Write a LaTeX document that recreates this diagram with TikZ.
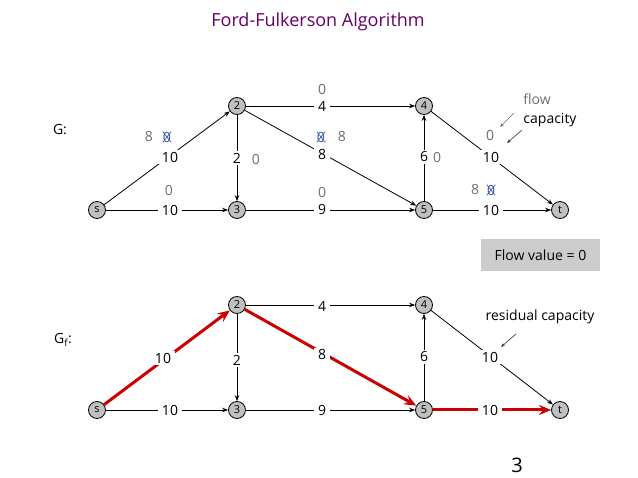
\documentclass[tikz,border=0pt]{standalone}
\usepackage{fontspec}
\setmainfont{Open Sans}
\usetikzlibrary{arrows.meta}
\definecolor{ttl}{RGB}{102,0,102}
\definecolor{rd}{RGB}{204,0,0}
\definecolor{flw}{RGB}{110,110,110}
\definecolor{xblue}{RGB}{60,90,170}
\definecolor{vert}{RGB}{192,192,192}
\definecolor{boxgray}{RGB}{204,204,204}
\begin{document}
\begin{tikzpicture}[x=1pt,y=-1pt,
 vtx/.style={circle,draw=black,line width=0.8pt,fill=vert,minimum size=17pt,inner sep=0pt,font=\fontsize{11}{11}\selectfont},
 edg/.style={-{Stealth[length=6pt,width=4.5pt]},line width=0.8pt},
 redg/.style={-{Stealth[length=12pt,width=10pt]},line width=3pt,draw=rd},
 capl/.style={fill=white,inner xsep=4pt,inner ysep=1.5pt,font=\fontsize{14}{14}\selectfont},
 flo/.style={text=flw,inner sep=1pt,font=\fontsize{14}{14}\selectfont},
 xzero/.style={text=xblue,inner sep=0.3pt,font=\fontsize{14}{14}\selectfont,
   path picture={\draw[xblue,line width=0.7pt]
     (path picture bounding box.south west)--(path picture bounding box.north east)
     (path picture bounding box.north west)--(path picture bounding box.south east);}},
 note/.style={-{Stealth[length=4pt,width=3pt]},line width=0.6pt},
 txt/.style={font=\fontsize{14}{14}\selectfont}]
\useasboundingbox (0,0) rectangle (638,478);

% title
\node[text=ttl,font=\fontsize{18}{18}\selectfont] (title) at (318,22) {Ford-Fulkerson Algorithm};

% ---------- G ----------
\node[txt] (G) at (60,130) {G:};
\node[vtx] (s)  at (97,210)  {s};
\node[vtx] (n2) at (237,106) {2};
\node[vtx] (n3) at (237,210) {3};
\node[vtx] (n4) at (424,106) {4};
\node[vtx] (n5) at (424,210) {5};
\node[vtx] (t)  at (560,210) {t};

\draw[edg] (s)  -- (n2);
\draw[edg] (s)  -- (n3);
\draw[edg] (n2) -- (n3);
\draw[edg] (n2) -- (n4);
\draw[edg] (n2) -- (n5);
\draw[edg] (n3) -- (n5);
\draw[edg] (n5) -- (n4);
\draw[edg] (n4) -- (t);
\draw[edg] (n5) -- (t);

\node[capl] (c1) at (170,157) {10};
\node[capl] (c2) at (170,210) {10};
\node[capl] (c3) at (237,158) {2};
\node[capl] (c4) at (322,106) {4};
\node[capl] (c5) at (322,155) {8};
\node[capl] (c6) at (322,210) {9};
\node[capl] (c7) at (424,157) {6};
\node[capl] (c8) at (491,157) {10};
\node[capl] (c9) at (491,210) {10};

\node[flo] (f1a) at (149,137) {8};
\node[xzero] (f1b) at (167,137) {0};
\node[flo] (f2) at (169,190) {0};
\node[flo] (f3) at (256,159) {0};
\node[flo] (f4) at (322,89) {0};
\node[xzero] (f5a) at (321,137) {0};
\node[flo] (f5b) at (342,137) {8};
\node[flo] (f6) at (322,192) {0};
\node[flo] (f7) at (437,157) {0};
\node[flo] (f8) at (490,135) {0};
\node[flo] (f9a) at (475,190) {8};
\node[xzero] (f9b) at (491,190) {0};

% annotations
\node[flo] (flowlbl) at (537,99) {flow};
\node[txt] (caplbl) at (550,120) {capacity};
\coordinate (fa1) at (514,113); \coordinate (fa2) at (500,127);
\coordinate (ca1) at (522,130); \coordinate (ca2) at (507,143);
\draw[note,draw=flw] (fa1) -- (fa2);
\draw[note,draw=black!80] (ca1) -- (ca2);

% flow value box
\node[fill=boxgray,minimum width=119pt,minimum height=32pt,inner sep=0pt,txt] (fv) at (540.5,255) {Flow value = 0};

% ---------- Gf ----------
\node[txt] (Gf) at (63,340) {G\textsubscript{f}:};
\node[vtx] (rs)  at (97,410)  {s};
\node[vtx] (r2) at (237,305) {2};
\node[vtx] (r3) at (237,410) {3};
\node[vtx] (r4) at (424,305) {4};
\node[vtx] (r5) at (424,410) {5};
\node[vtx] (rt)  at (560,410) {t};

\draw[redg] (rs) -- (r2);
\draw[edg] (rs) -- (r3);
\draw[edg] (r2) -- (r3);
\draw[edg] (r2) -- (r4);
\draw[redg] (r2) -- (r5);
\draw[edg] (r3) -- (r5);
\draw[edg] (r5) -- (r4);
\draw[edg] (r4) -- (rt);
\draw[redg] (r5) -- (rt);

\node[capl] (d1) at (163,358) {10};
\node[capl] (d2) at (170,410) {10};
\node[capl] (d3) at (237,360) {2};
\node[capl] (d4) at (322,306) {4};
\node[capl] (d5) at (322,355) {8};
\node[capl] (d6) at (322,411) {9};
\node[capl] (d7) at (424,357) {6};
\node[capl] (d8) at (490,357) {10};
\node[capl] (d9) at (490,410) {10};

\node[txt] (reslbl) at (540,317) {residual capacity};
\coordinate (ra1) at (516,334); \coordinate (ra2) at (501,347);
\draw[note,draw=black!80] (ra1) -- (ra2);

\node[font=\fontsize{20}{20}\selectfont,inner sep=0pt] (pg) at (517,465) {3};
\end{tikzpicture}
\end{document}
